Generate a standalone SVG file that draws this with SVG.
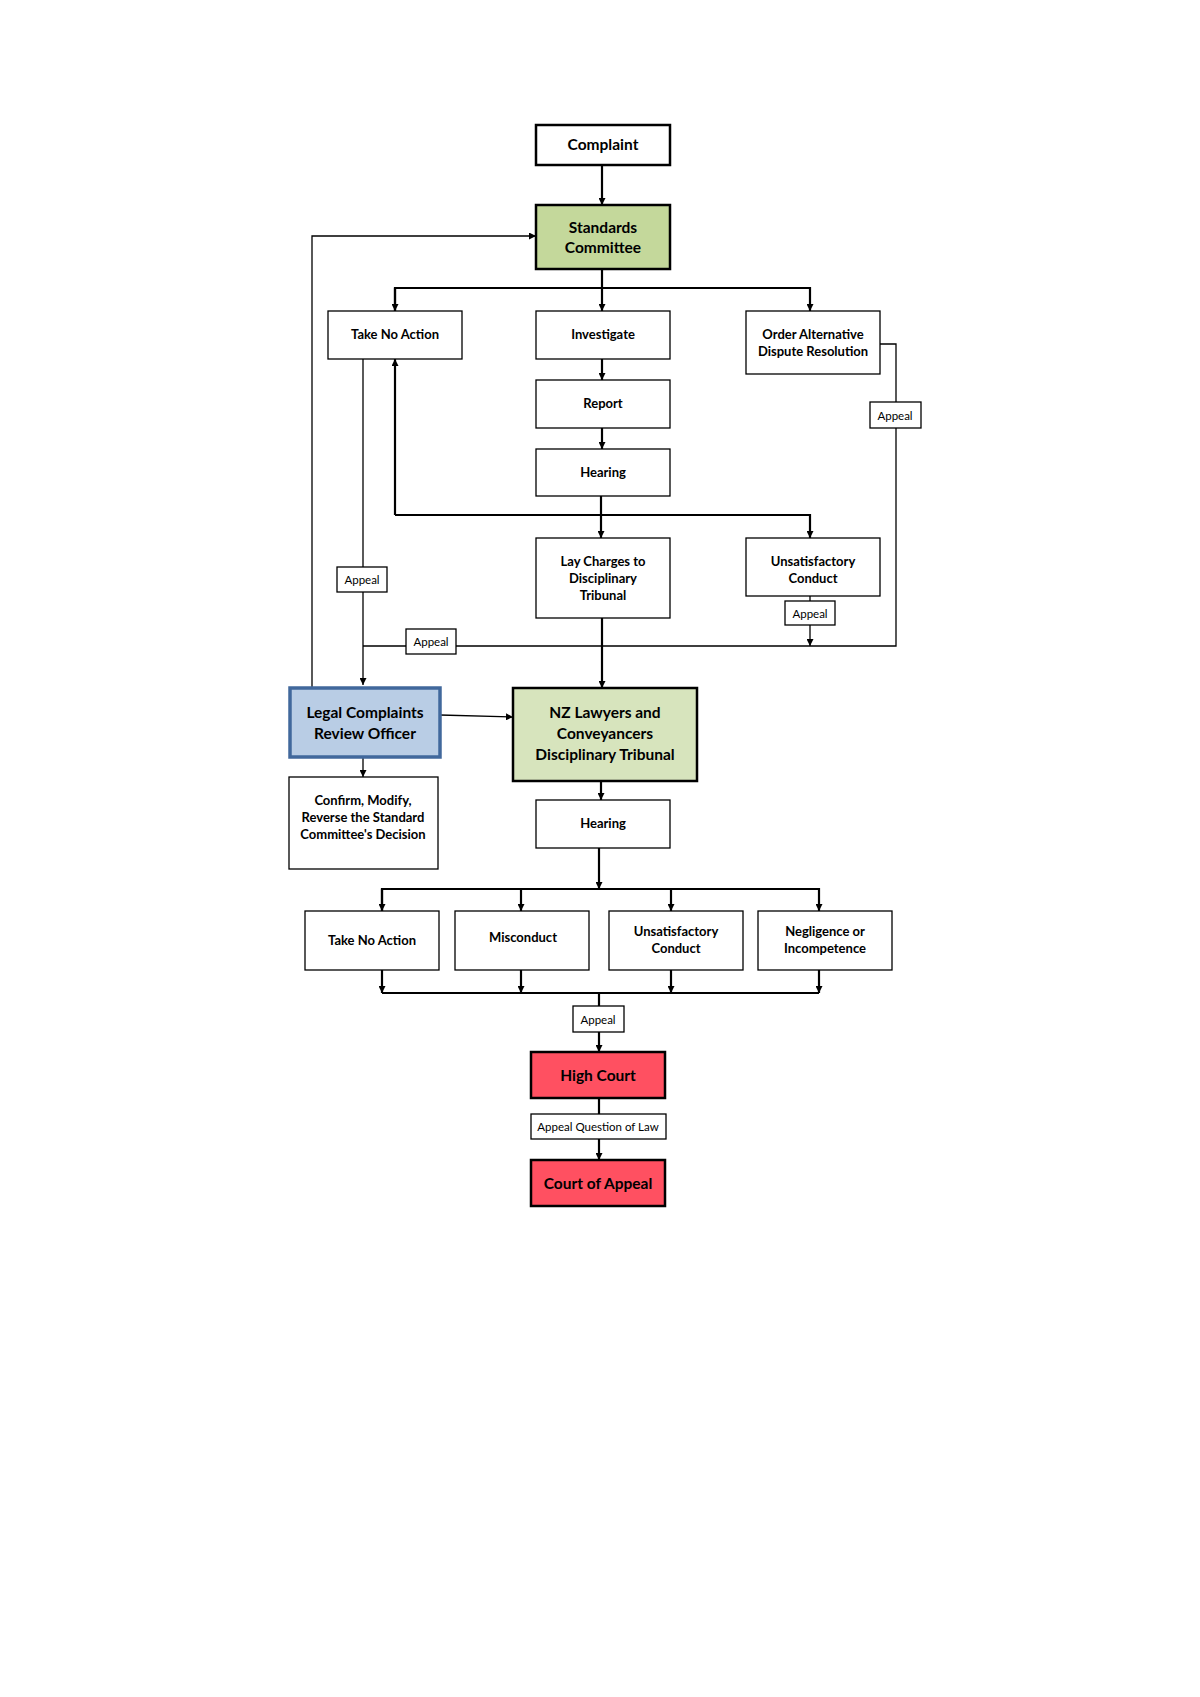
<svg xmlns="http://www.w3.org/2000/svg" width="1200" height="1697" viewBox="0 0 1200 1697">
<defs>
<marker id="ar" viewBox="0 0 10 10" refX="10" refY="5" markerWidth="7" markerHeight="7" orient="auto" markerUnits="userSpaceOnUse"><path d="M0,0 L10,5 L0,10 z" fill="#000"/></marker>
<style>
rect{fill:#fff;stroke:#000;stroke-width:1.3}
.b{stroke-width:2.5}
text{font-family:Lato,"Open Sans","Liberation Sans",sans-serif;font-weight:bold;font-size:13px;text-anchor:middle;fill:#000}
.L{font-size:15.5px}
.s{font-weight:normal;font-size:11.5px}
.c line,.c path{stroke:#000;fill:none;stroke-width:1.3}
.c .t{stroke-width:2.2}
</style>
</defs>
<g class="c">
<line class="t" x1="602" y1="165" x2="602" y2="205" marker-end="url(#ar)"/>
<line class="t" x1="602" y1="269" x2="602" y2="311" marker-end="url(#ar)"/>
<path class="t" d="M395,311 V288 H810 V311" marker-end="url(#ar)"/>
<line class="t" x1="395" y1="288" x2="395" y2="311" marker-end="url(#ar)"/>
<line class="t" x1="602" y1="359" x2="602" y2="380" marker-end="url(#ar)"/>
<line class="t" x1="602" y1="428" x2="602" y2="449" marker-end="url(#ar)"/>
<line class="t" x1="601" y1="496" x2="601" y2="538" marker-end="url(#ar)"/>
<path class="t" d="M395,515 H810 V538" marker-end="url(#ar)"/>
<line class="t" x1="395" y1="515" x2="395" y2="359" marker-end="url(#ar)"/>
<line x1="810" y1="596" x2="810" y2="646" marker-end="url(#ar)"/>
<path d="M880,344 H896 V646 H363"/>
<line x1="363" y1="359" x2="363" y2="685" marker-end="url(#ar)"/>
<path d="M312,688 V236 H536" marker-end="url(#ar)"/>
<line x1="440" y1="715" x2="513" y2="717" marker-end="url(#ar)"/>
<line class="t" x1="602" y1="618" x2="602" y2="688" marker-end="url(#ar)"/>
<line x1="363" y1="757" x2="363" y2="777" marker-end="url(#ar)"/>
<line class="t" x1="601" y1="781" x2="601" y2="800" marker-end="url(#ar)"/>
<line class="t" x1="599" y1="848" x2="599" y2="889" marker-end="url(#ar)"/>
<path class="t" d="M382,911 V889 H819 V911" marker-end="url(#ar)"/>
<line class="t" x1="382" y1="889" x2="382" y2="911" marker-end="url(#ar)"/>
<line class="t" x1="521" y1="889" x2="521" y2="911" marker-end="url(#ar)"/>
<line class="t" x1="671" y1="889" x2="671" y2="911" marker-end="url(#ar)"/>
<line class="t" x1="382" y1="970" x2="382" y2="993" marker-end="url(#ar)"/>
<line class="t" x1="521" y1="970" x2="521" y2="993" marker-end="url(#ar)"/>
<line class="t" x1="671" y1="970" x2="671" y2="993" marker-end="url(#ar)"/>
<line class="t" x1="819" y1="970" x2="819" y2="993" marker-end="url(#ar)"/>
<line class="t" x1="382" y1="993" x2="819" y2="993"/>
<line class="t" x1="599" y1="993" x2="599" y2="1052" marker-end="url(#ar)"/>
<line class="t" x1="599" y1="1098" x2="599" y2="1160" marker-end="url(#ar)"/>
</g>
<g id="complaint"><rect class="b" x="536" y="125" width="134" height="40"/><text class="L" x="603" y="150">Complaint</text></g>
<g id="standards"><rect class="b" x="536" y="205" width="134" height="64" style="fill:#c4d89b"/><text class="L" x="603" y="233">Standards</text><text class="L" x="603" y="253">Committee</text></g>
<g id="tna1"><rect x="328" y="311" width="134" height="48"/><text x="395" y="339">Take No Action</text></g>
<g id="investigate"><rect x="536" y="311" width="134" height="48"/><text x="603" y="339">Investigate</text></g>
<g id="adr"><rect x="746" y="311" width="134" height="63"/><text x="813" y="339">Order Alternative</text><text x="813" y="356">Dispute Resolution</text></g>
<g id="report"><rect x="536" y="380" width="134" height="48"/><text x="603" y="408">Report</text></g>
<g id="hearing1"><rect x="536" y="449" width="134" height="47"/><text x="603" y="477">Hearing</text></g>
<g id="lay"><rect x="536" y="538" width="134" height="80"/><text x="603" y="566">Lay Charges to</text><text x="603" y="583">Disciplinary</text><text x="603" y="600">Tribunal</text></g>
<g id="unsat1"><rect x="746" y="538" width="134" height="58"/><text x="813" y="566">Unsatisfactory</text><text x="813" y="583">Conduct</text></g>
<g id="ap1"><rect x="870" y="402" width="51" height="26"/><text class="s" x="895" y="420">Appeal</text></g>
<g id="ap2"><rect x="785" y="601" width="50" height="24"/><text class="s" x="810" y="618">Appeal</text></g>
<g id="ap3"><rect x="406" y="629" width="50" height="25"/><text class="s" x="431" y="646">Appeal</text></g>
<g id="ap4"><rect x="337" y="567" width="50" height="25"/><text class="s" x="362" y="584">Appeal</text></g>
<g id="lcro"><rect x="290" y="688" width="150" height="69" style="fill:#b9cde5;stroke:#41689c;stroke-width:3.5"/><text class="L" x="365" y="718">Legal Complaints</text><text class="L" x="365" y="739">Review Officer</text></g>
<g id="nz"><rect class="b" x="513" y="688" width="184" height="93" style="fill:#d7e4bd"/><text class="L" x="605" y="718">NZ Lawyers and</text><text class="L" x="605" y="739">Conveyancers</text><text class="L" x="605" y="760">Disciplinary Tribunal</text></g>
<g id="confirm"><rect x="289" y="777" width="149" height="92"/><text x="363" y="805">Confirm, Modify,</text><text x="363" y="822">Reverse the Standard</text><text x="363" y="839">Committee's Decision</text></g>
<g id="hearing2"><rect x="536" y="800" width="134" height="48"/><text x="603" y="828">Hearing</text></g>
<g id="tna2"><rect x="305" y="911" width="134" height="59"/><text x="372" y="945">Take No Action</text></g>
<g id="misconduct"><rect x="455" y="911" width="134" height="59"/><text x="523" y="942">Misconduct</text></g>
<g id="unsat2"><rect x="609" y="911" width="134" height="59"/><text x="676" y="936">Unsatisfactory</text><text x="676" y="953">Conduct</text></g>
<g id="negl"><rect x="758" y="911" width="134" height="59"/><text x="825" y="936">Negligence or</text><text x="825" y="953">Incompetence</text></g>
<g id="ap5"><rect x="573" y="1006" width="51" height="26"/><text class="s" x="598" y="1024">Appeal</text></g>
<g id="high"><rect class="b" x="531" y="1052" width="134" height="46" style="fill:#ff5061"/><text class="L" x="598" y="1081">High Court</text></g>
<g id="aql"><rect x="531" y="1114" width="135" height="25"/><text class="s" x="598" y="1131">Appeal Question of Law</text></g>
<g id="coa"><rect class="b" x="531" y="1160" width="134" height="46" style="fill:#ff5061"/><text class="L" x="598" y="1189">Court of Appeal</text></g>
</svg>
